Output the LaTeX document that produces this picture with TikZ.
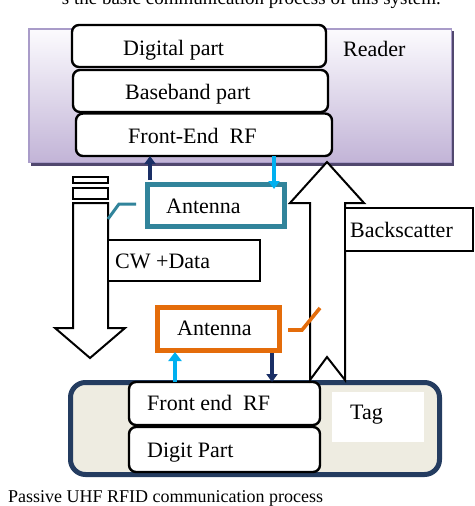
\documentclass[tikz,border=0pt]{standalone}
\usepackage{fontspec}
\setmainfont{Liberation Serif}
\usetikzlibrary{arrows.meta}
\definecolor{rdtop}{HTML}{FCFBFE}
\definecolor{rdbot}{HTML}{C2B4D7}
\definecolor{rdedge}{HTML}{A99CC9}
\definecolor{rdshadow}{HTML}{51486F}
\definecolor{teal}{HTML}{31849B}
\definecolor{orng}{HTML}{E46C0A}
\definecolor{navy}{HTML}{1A2F66}
\definecolor{lblue}{HTML}{00B0F0}
\definecolor{tagfill}{HTML}{EEECE1}
\definecolor{tagedge}{HTML}{243C60}
\begin{document}
\begin{tikzpicture}[x=1pt,y=-1pt,
  txt/.style={font=\fontsize{22}{26}\selectfont, inner sep=0pt, anchor=base west},
  partbox/.style={draw=black, line width=2.4pt, rounded corners=7pt, fill=white},
  hollow/.style={draw=black, line width=2pt, fill=white, line join=miter},
  labelbox/.style={draw=black, line width=2pt, fill=white},
  sig/.style={line width=3.6pt, -{Triangle[width=11pt,length=8pt]}},
]
\useasboundingbox (0,0) rectangle (474,506);

% cut-off text at the top
\node[font=\fontsize{19}{22}\selectfont, inner sep=0pt, anchor=base east] (toptext) at (441,5) {s the basic communication process of this system.};

% Reader block
\fill[rdshadow] (31,31) rectangle (454,166);
\shade[top color=rdtop, bottom color=rdbot, draw=rdedge, line width=1.6pt] (28.8,28.8) rectangle (451.5,162.5);
\node[txt] (reader) at (343,56) {Reader};

\path[partbox] (72,25) rectangle (326,67);
\node (digbox) at (199,46) {};
\path[partbox] (73,70) rectangle (328,112);
\node (basebox) at (200.5,91) {};
\path[partbox] (76,113.5) rectangle (332,156);
\coordinate (fe) at (204,156);
\node[txt] (digital) at (123,55) {Digital part};
\node[txt] (baseband) at (125,99) {Baseband part};
\node[txt] (frontend) at (128,143) {Front-End\ \ RF};

% Tag block
\path[draw=tagedge, fill=tagfill, line width=5pt, rounded corners=15pt] (70.5,382.5) rectangle (439.5,474.5);
\fill[white] (332,392) rectangle (424,442);
\node[txt] (tag) at (350,419) {Tag};
\path[partbox] (129,382) rectangle (320,425);
\path[partbox] (129,427) rectangle (320,472);
\node[txt] (tfront) at (147,410) {Front end\ \ RF};
\node[txt] (tdigit) at (147,457) {Digit Part};

% CW + Data striped down arrow
\path[hollow] (73,177) rectangle (108,182.5);
\path[hollow] (73,188) rectangle (108,199);
\path[hollow] (73,203) -- (108,203) -- (108,328) -- (125,328) -- (90,358) -- (55,328) -- (73,328) -- cycle;
\coordinate (cwtip) at (90,358);

% Backscatter notched up arrow
\path[hollow] (310,380) -- (310,203) -- (290,203) -- (327,162) -- (364,203) -- (345,203) -- (345,380) -- (327,357) -- cycle;
\coordinate (bstip) at (327,162);

% label boxes
\path[labelbox] (108,240) rectangle (260,281);
\node[txt] (cw) at (115,268) {CW +Data};
\path[labelbox] (345,208) rectangle (473,251);
\node[txt] (bs) at (350,237) {Backscatter};

% Reader antenna
\node[draw=teal, line width=5pt, minimum width=137pt, minimum height=42pt, inner sep=0pt] (rant) at (216,205.5) {};
\node[txt] (rantt) at (166,213) {Antenna};
\draw[teal, line width=3pt] (136,204) -- (119,204) -- (108,219);

% Tag antenna
\node[draw=orng, line width=5pt, minimum width=122pt, minimum height=43pt, inner sep=0pt] (tant) at (218.5,329) {};
\node[txt] (tantt) at (177,335) {Antenna};
\draw[orng, line width=3.6pt] (288,330) -- (302,330) -- (320,308);

% signal arrows
\coordinate (rfup) at (150,156);
\coordinate (rfdn) at (274,156);
\draw[sig, navy] (rant.north -| rfup) ++(0,-2) -- (rfup);
\draw[sig, lblue] (rfdn) -- (274,189);
\coordinate (tfup) at (175,382);
\coordinate (tfdn) at (272,382);
\draw[sig, lblue, -{Triangle[width=13pt,length=9pt]}] (tfup) -- (175,352);
\draw[sig, navy] (272,353) -- (tfdn);

% caption
\node[font=\fontsize{18}{22}\selectfont, inner sep=0pt, anchor=base west] (caption) at (8,502) {Passive UHF RFID communication process};
\end{tikzpicture}
\end{document}
